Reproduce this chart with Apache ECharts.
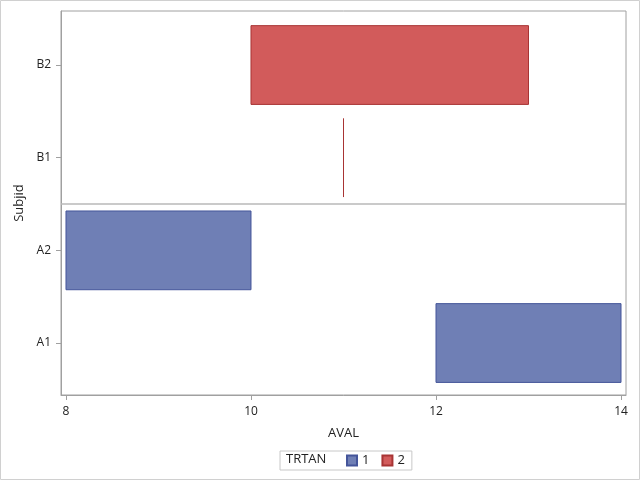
<!DOCTYPE html>
<html>
<head>
<meta charset="utf-8">
<script src="https://cdn.jsdelivr.net/npm/echarts@6/dist/echarts.min.js"></script>
<style>
    html, body { margin: 0; padding: 0; background: #fff; }
    #chart { width: 640px; height: 480px; }
</style>
</head>
<body>
<div id="chart"></div>
<script>
    // subjects on the y axis, bottom to top
    var subjects = ['A1', 'A2', 'B1', 'B2'];
    // treatment 1 bars
    var trt1Subj = ['A1', 'A2'];
    var trt1Low = [12, 8];
    var trt1High = [14, 10];
    // treatment 2 bars
    var trt2Subj = ['B1', 'B2'];
    var trt2Low = [11, 10];
    var trt2High = [11, 13];
    var xTicks = [8, 10, 12, 14];
    var refLine = 1.5; // between A2 and B1

    var font = 'Open Sans';

    function buildData(subj, low, high) {
        var out = [];
        for (var i = 0; i < subj.length; i++) {
            out.push([low[i], high[i], subjects.indexOf(subj[i])]);
        }
        return out;
    }

    function renderBar(params, api) {
        var p0 = api.coord([api.value(0), api.value(2)]);
        var p1 = api.coord([api.value(1), api.value(2)]);
        var h = api.size([0, 0.85])[1];
        var style = api.style();
        if (p1[0] - p0[0] < 1) {
            return {
                type: 'line',
                shape: { x1: p0[0], y1: p0[1] - h / 2, x2: p0[0], y2: p0[1] + h / 2 },
                style: { stroke: style.stroke, lineWidth: 1 }
            };
        }
        return {
            type: 'rect',
            shape: { x: p0[0], y: p0[1] - h / 2, width: p1[0] - p0[0], height: h },
            style: style
        };
    }

    var chart = echarts.init(document.getElementById('chart'));

    var option = {
        animation: false,
        textStyle: { fontFamily: font },
        grid: {
            left: 61, right: 14, top: 11, bottom: 85,
            containLabel: false,
            outerBoundsMode: 'none',
            show: true, borderColor: '#a0a0a0', borderWidth: 1
        },
        xAxis: {
            type: 'value',
            min: 7.946,
            max: 14.054,
            name: 'AVAL',
            nameLocation: 'middle',
            nameGap: 32,
            nameTextStyle: { fontFamily: font, fontSize: 13, color: '#222' },
            axisLine: { show: true, onZero: false, lineStyle: { color: '#a0a0a0' } },
            axisTick: { show: true, length: 5, customValues: xTicks, lineStyle: { color: '#a0a0a0' } },
            axisLabel: { customValues: xTicks, margin: 11, fontSize: 12, color: '#222', fontFamily: font },
            splitLine: { show: false }
        },
        yAxis: {
            type: 'value',
            min: -0.561,
            max: 3.583,
            name: 'Subjid',
            nameLocation: 'middle',
            nameRotate: 90,
            nameGap: 35,
            nameTextStyle: { fontFamily: font, fontSize: 13, color: '#222' },
            axisLine: { show: true, onZero: false, lineStyle: { color: '#a0a0a0' } },
            axisTick: { show: true, length: 5, customValues: [0, 1, 2, 3], lineStyle: { color: '#a0a0a0' } },
            axisLabel: {
                customValues: [0, 1, 2, 3],
                margin: 10,
                fontSize: 12,
                color: '#222',
                fontFamily: font,
                formatter: function (v) { return subjects[Math.round(v)]; }
            },
            splitLine: { show: false }
        },
        legend: {
            bottom: 10,
            left: 280,
            orient: 'horizontal',
            data: ['1', '2'],
            icon: 'rect',
            itemWidth: 10,
            itemHeight: 10,
            itemGap: 12,
            padding: [3, 7, 3, 66],
            borderColor: '#c8c8c8',
            borderWidth: 1,
            textStyle: { fontFamily: font, fontSize: 13, color: '#222' }
        },
        graphic: [
            {
                type: 'rect',
                shape: { x: 0.5, y: 0.5, width: 639, height: 479 },
                style: { fill: 'none', stroke: '#d0d0d0', lineWidth: 1 },
                silent: true
            },
            {
                type: 'text',
                left: 286,
                bottom: 14,
                style: { text: 'TRTAN', font: '13px "Open Sans"', fill: '#222' }
            }
        ],
        series: [
            {
                name: '1',
                type: 'custom',
                renderItem: renderBar,
                encode: { x: [0, 1], y: 2 },
                itemStyle: { color: '#6f7fb5', borderColor: '#44559a', borderWidth: 1 },
                data: buildData(trt1Subj, trt1Low, trt1High),
                markLine: {
                    silent: true,
                    symbol: 'none',
                    label: { show: false },
                    lineStyle: { color: '#b8b8b8', type: 'solid', width: 1.5 },
                    data: [{ yAxis: refLine }]
                }
            },
            {
                name: '2',
                type: 'custom',
                renderItem: renderBar,
                encode: { x: [0, 1], y: 2 },
                itemStyle: { color: '#d25b5b', borderColor: '#a83434', borderWidth: 1 },
                data: buildData(trt2Subj, trt2Low, trt2High)
            }
        ]
    };

    chart.setOption(option);
</script>
</body>
</html>
